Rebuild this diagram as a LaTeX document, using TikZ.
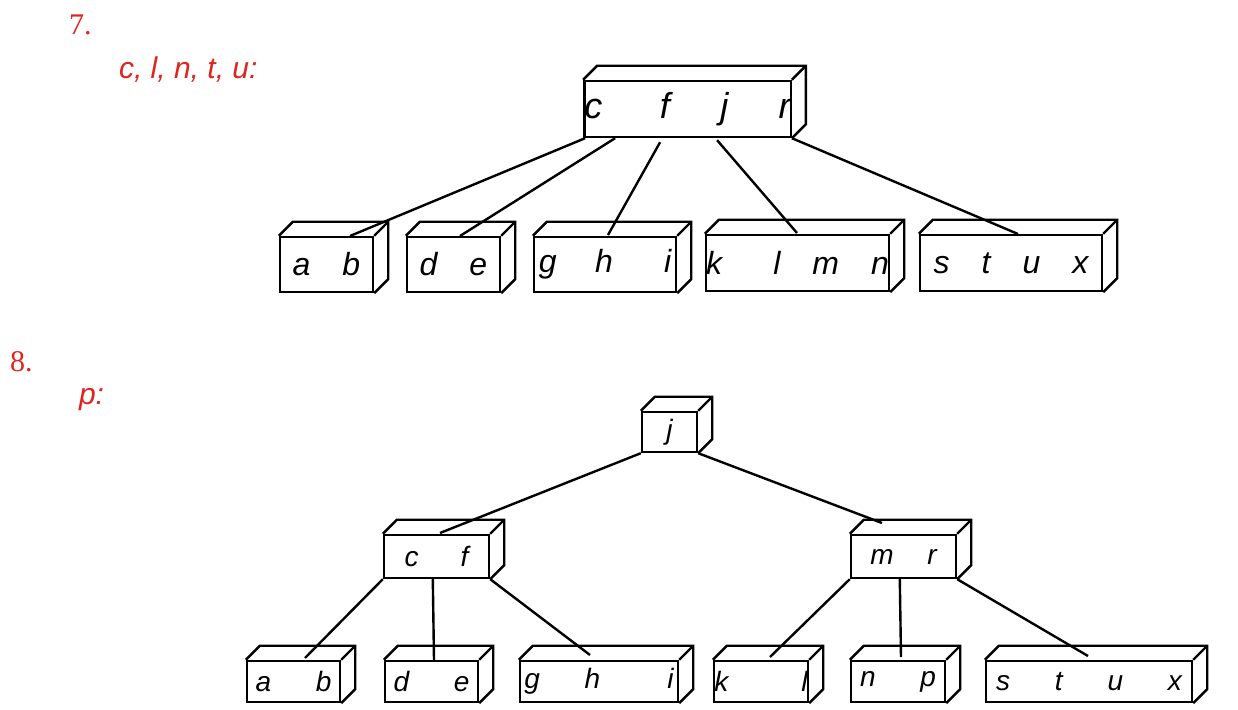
\documentclass[tikz,border=0pt]{standalone}
\usepackage{fontspec}
\setmainfont{Liberation Serif}
\newfontfamily\hv{Liberation Sans}
\usetikzlibrary{calc}
\definecolor{lbl}{RGB}{225,35,30}
\tikzset{bline/.style={line width=1.2pt},conn/.style={line width=1.2pt}}
\newcommand{\bx}[7]{% name x1 x2 ytop ybot text fontsize
  \pgfmathsetmacro\bw{(#3-#2)*0.5}\pgfmathsetmacro\bh{(#5-#4)*0.5}
  \node[draw,bline,inner sep=0pt,minimum width=\bw pt,minimum height=\bh pt,font=\hv\itshape\fontsize{#7}{#7}\selectfont] (#1) at ({(#2+#3)/2},{(#4+#5)/2}) {#6};
  \draw[bline,line join=miter] (#1.north west) -- ++(14,-14) -- ($(#1.north east)+(14,-14)$) -- ($(#1.south east)+(14,-14)$) -- (#1.south east);
  \draw[bline] (#1.north east) -- ++(14,-14);}
\newcommand{\gp}[1][1em]{\hspace{#1}}
\begin{document}
\begin{tikzpicture}[x=0.5pt,y=-0.5pt]
\useasboundingbox (0,0) rectangle (1238,710);
\node[lbl,anchor=west,font=\fontsize{15}{15}\selectfont] (l7) at (62,25) {7.};
\node[lbl,anchor=west,font=\hv\itshape\fontsize{15}{15}\selectfont] (k7) at (112,70) {c, l, n, t, u:};
\node[lbl,anchor=west,font=\fontsize{15}{15}\selectfont] (l8) at (3,362) {8.};
\node[lbl,anchor=west,font=\hv\itshape\fontsize{15}{15}\selectfont] (k8) at (72,400) {p:};
% tree 1
\bx{r1}{596}{779}{81}{137}{c\gp[1.6em]f\gp[1.4em]j\gp[1.4em]r}{18}
\bx{a1}{280}{373}{237}{292}{a\gp[1em]b}{16}
\bx{d1}{407}{500}{237}{292}{d\gp[1em]e}{16}
\bx{g1}{534}{676}{237}{292}{g\gp[1.2em]h\gp[1.6em]i}{16}
\bx{k1}{706}{889}{235}{291}{k\gp[1.6em]l\gp[1em]m\gp[1em]n}{16}
\bx{s1}{920}{1102}{235}{291}{s\gp[1em]t\gp[1em]u\gp[1em]x}{16}
\coordinate (pa) at (350,236); \coordinate (pd) at (460,236);
\coordinate (pg) at (608,235); \coordinate (pk) at (797,233); \coordinate (ps) at (1018,234);
\draw[conn] ($(r1.south west)+(2,0)$) -- (pa);
\draw[conn] ($(r1.south west)+(32,0)$) -- (pd);
\draw[conn] ($(r1.south west)+(77,4)$) -- (pg);
\draw[conn] ($(r1.south west)+(134,2)$) -- (pk);
\draw[conn] (r1.south east) -- (ps);
% tree 2
\bx{j2}{642}{697}{412}{452}{j}{14}
\bx{c2}{384}{489}{535}{578}{c\gp[1.5em]f}{14}
\bx{m2}{851}{956}{535}{578}{m\gp[1.2em]r}{14}
\bx{a2}{247}{340}{661}{702}{a\gp[1.6em]b}{14}
\bx{d2}{385}{478}{661}{702}{d\gp[1.6em]e}{14}
\bx{g2}{520}{678}{661}{702}{g\gp[1.6em]h\gp[2.4em]i}{14}
\bx{k2}{714}{808}{661}{702}{k\gp[2.6em]l}{14}
\bx{n2}{851}{945}{661}{702}{n\gp[1.6em]p}{14}
\bx{s2}{986}{1192}{661}{702}{s\gp[1.6em]t\gp[1.6em]u\gp[1.6em]x}{14}
\coordinate (qc) at (440,533); \coordinate (qm) at (882,523);
\coordinate (qa) at (305,658); \coordinate (qd) at (434,660); \coordinate (qg) at (590,655);
\coordinate (qk) at (770,657); \coordinate (qn) at (901,657); \coordinate (qs) at (1088,656);
\draw[conn] (j2.south west) -- (qc);
\draw[conn] (j2.south east) -- (qm);
\draw[conn] (c2.south west) -- (qa);
\draw[conn] ($(c2.south west)+(50,0)$) -- (qd);
\draw[conn] (c2.south east) -- (qg);
\draw[conn] (m2.south west) -- (qk);
\draw[conn] ($(m2.south west)+(50,0)$) -- (qn);
\draw[conn] (m2.south east) -- (qs);
\end{tikzpicture}
\end{document}
